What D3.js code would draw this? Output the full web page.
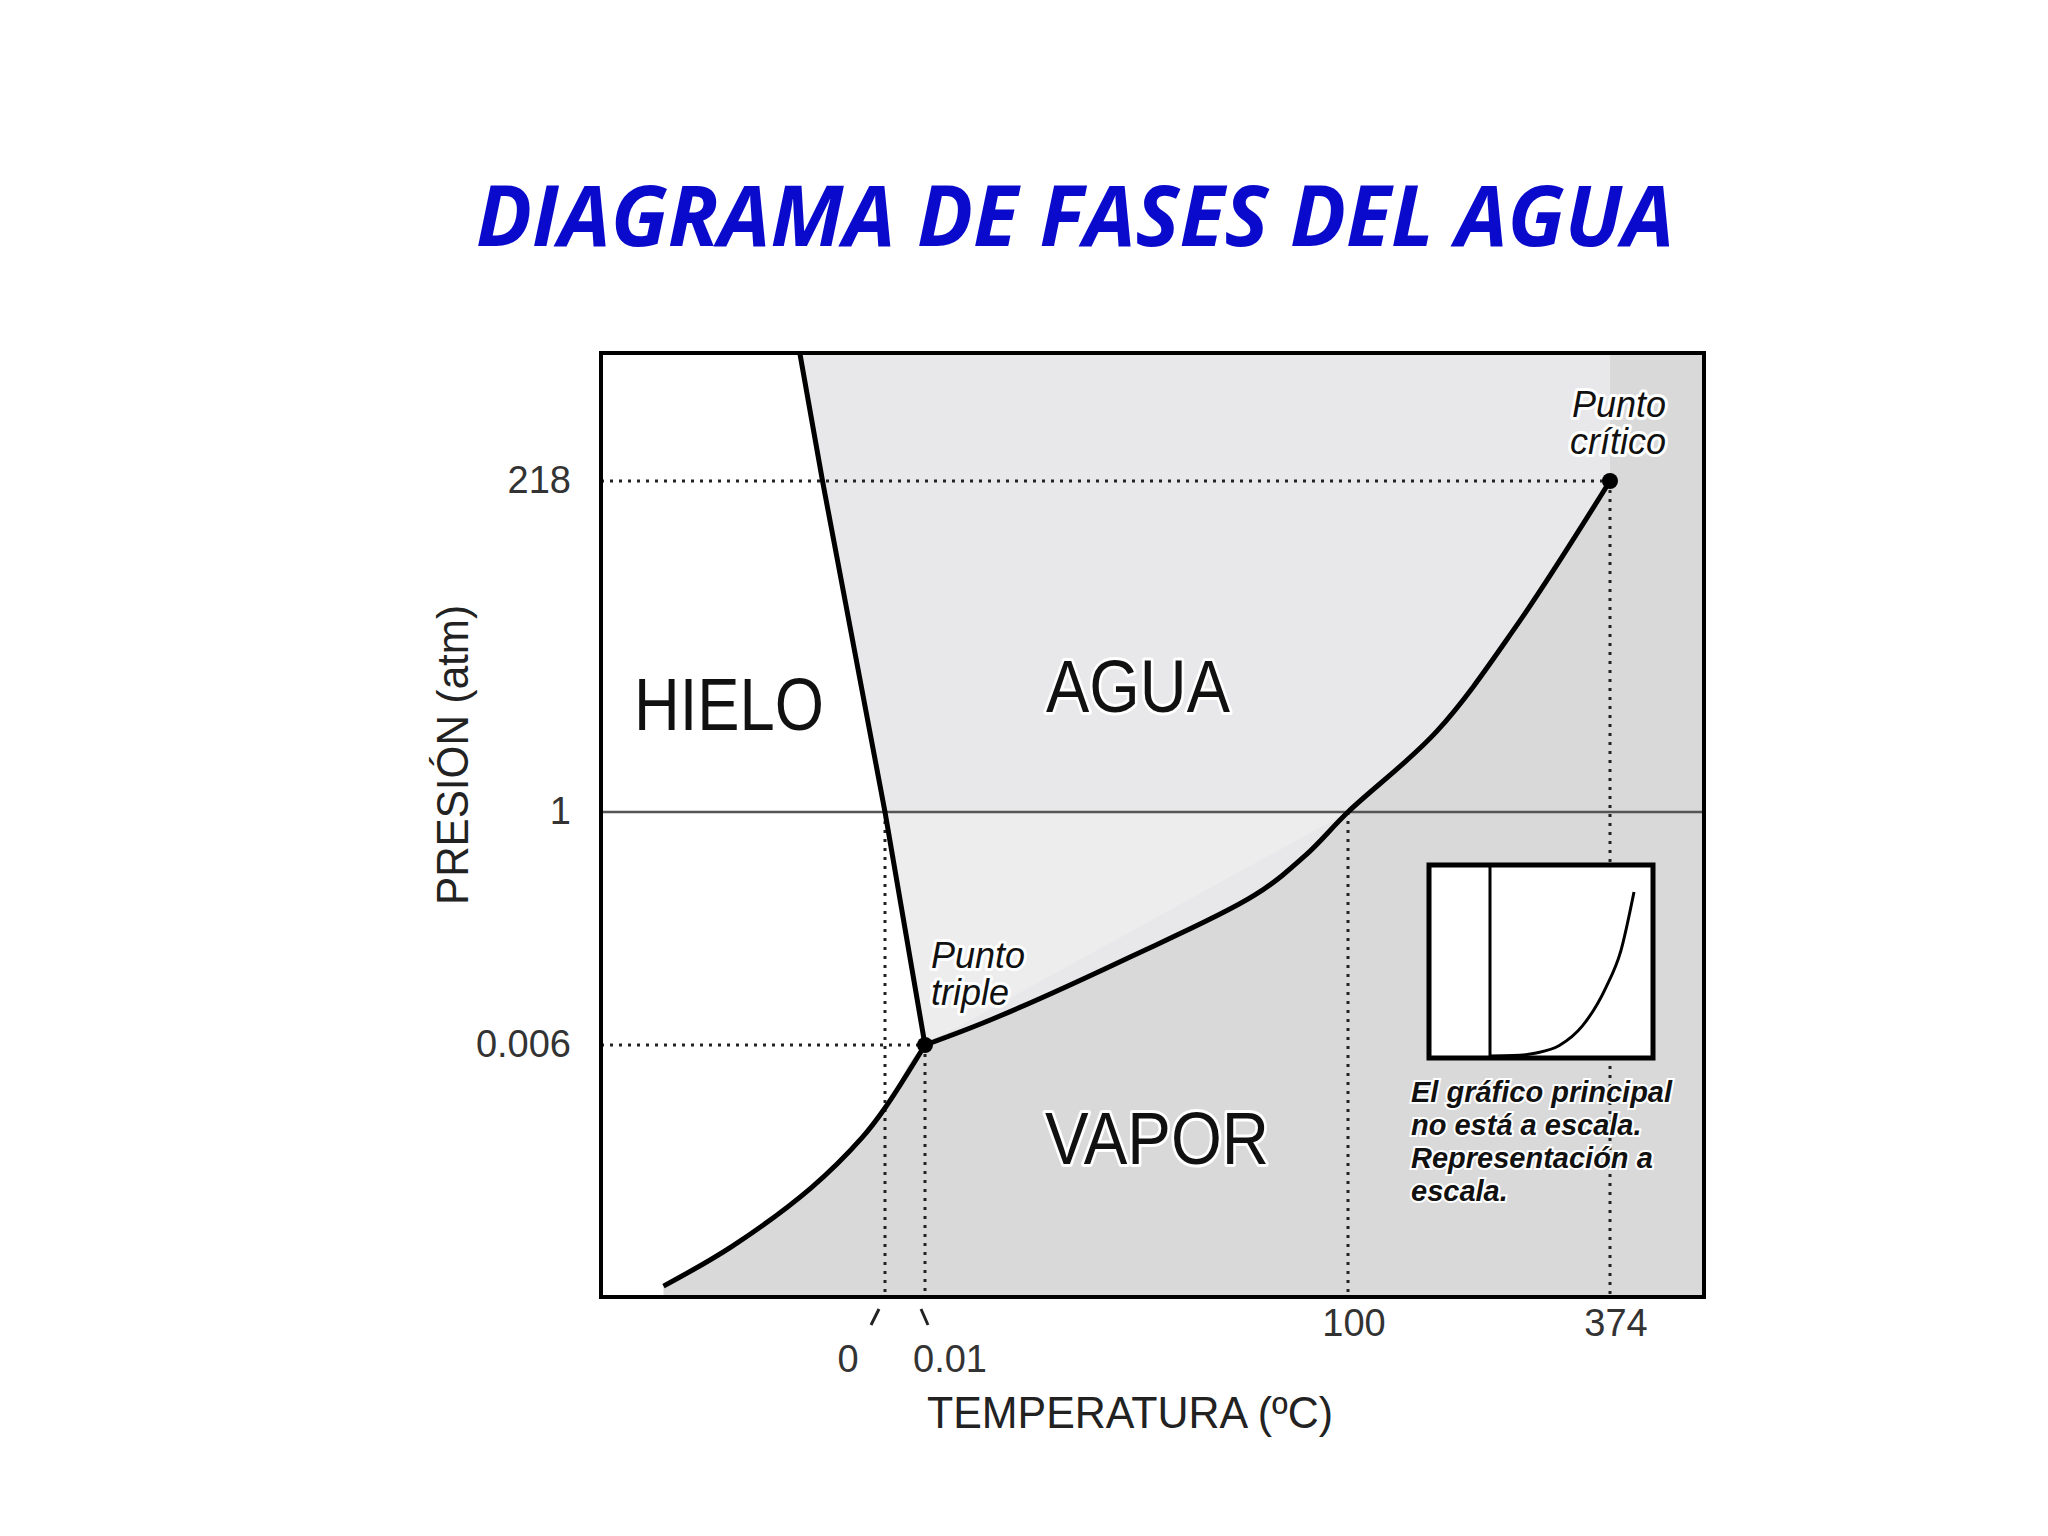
<!DOCTYPE html>
<html><head><meta charset="utf-8">
<script src="https://cdn.jsdelivr.net/npm/d3@7"></script>
<style>body{margin:0;background:#fff}</style>
</head><body>
<svg id="c" width="2048" height="1536"></svg>
<script>
// Data (chart is not to scale: axes are piecewise)
var tempTicks = [0, 0.01, 100, 374];
var tempTickLabels = ["0", "0.01", "100", "374"];
var presTicks = [0.006, 1, 218];
var presTickLabels = ["0.006", "1", "218"];
var sublimation = [[-39, 0.00026], [-27, 0.0012], [-13, 0.0026], [-4, 0.0038], [0, 0.0045], [0.01, 0.006]];
var fusion = [[0.01, 0.006], [0, 1], [-11, 218], [-15, 300]];
var vaporization = [[0.01, 0.006], [16, 0.117], [47, 0.369], [78, 0.646], [90, 0.816], [100, 1], [193, 54], [275, 122], [374, 218]];
var triplePoint = [0.01, 0.006];
var criticalPoint = [374, 218];
var insetCurve = [[0, 0], [60, 0.5], [120, 4], [180, 14], [240, 40], [300, 90], [340, 140], [374, 218]];

var svg = d3.select("#c");
var L = 601, R = 1704, T = 353, B = 1297;

var x = d3.scaleLinear().domain([-50, 0, 0.01, 100, 374, 420]).range([L, 885, 925, 1348, 1610, R]);
var y = d3.scaleLinear().domain([0, 0.006, 1, 218, 300]).range([B, 1045, 812, 481, T]);
var line = d3.line().x(d => x(d[0])).y(d => y(d[1]));
var smooth = d3.line().x(d => x(d[0])).y(d => y(d[1])).curve(d3.curveCatmullRom);

svg.append("text").attr("x", 1075).attr("y", 246).attr("text-anchor", "middle")
  .attr("font-family", "Open Sans").attr("font-weight", "bold").attr("font-style", "italic")
  .attr("font-size", 84).attr("fill", "#0a0acc").attr("textLength", 1198)
  .attr("lengthAdjust", "spacingAndGlyphs").text("DIAGRAMA DE FASES DEL AGUA");

// liquid region (right of fusion line)
svg.append("path").attr("d", line(fusion.concat([[420, 300], [420, 0.006]])) + "Z").attr("fill", "#e8e8ea");
svg.append("path").attr("d", line([[0, 1], [100, 1], [0.01, 0.006]]) + "Z").attr("fill", "#ededee");
// vapor region: smooth boundary then close along the frame
var boundary = sublimation.concat(vaporization.slice(1));
svg.append("path").attr("d", smooth(boundary) + line([[374, 300], [420, 300], [420, 0], [-39, 0]]).replace("M", "L") + "Z")
  .attr("fill", "#d9d9da");

// dotted guides
function guide(a, b) {
  svg.append("path").attr("d", line([a, b])).attr("fill", "none")
    .attr("stroke", "#222").attr("stroke-width", 3).attr("stroke-dasharray", "3,6");
}
guide([-50, 218], criticalPoint);
guide([-50, 0.006], triplePoint);
guide([0, 1], [0, 0]);
guide(triplePoint, [0.01, 0]);
guide([100, 1], [100, 0]);
guide(criticalPoint, [374, 0]);

// 1 atm line
svg.append("path").attr("d", line([[-50, 1], [420, 1]])).attr("stroke", "#555").attr("stroke-width", 2.5).attr("fill", "none");

// phase boundaries
svg.append("path").attr("d", smooth(sublimation)).attr("fill", "none").attr("stroke", "#000").attr("stroke-width", 5);
svg.append("path").attr("d", line(fusion)).attr("fill", "none").attr("stroke", "#000").attr("stroke-width", 5);
svg.append("path").attr("d", smooth(vaporization)).attr("fill", "none").attr("stroke", "#000").attr("stroke-width", 5);
svg.selectAll("circle.pt").data([triplePoint, criticalPoint]).enter().append("circle")
  .attr("cx", d => x(d[0])).attr("cy", d => y(d[1])).attr("r", 8).attr("fill", "#000");

// frame
svg.append("rect").attr("x", L).attr("y", T).attr("width", R - L).attr("height", B - T)
  .attr("fill", "none").attr("stroke", "#000").attr("stroke-width", 4);

var lab = "Liberation Sans Narrow, Liberation Sans, Arial";
// ticks
svg.selectAll("text.yt").data(presTicks).enter().append("text")
  .attr("x", 571).attr("y", d => y(d) + 12).attr("text-anchor", "end")
  .attr("font-family", lab).attr("font-size", 38).attr("fill", "#333")
  .text((d, i) => presTickLabels[i]);
var xtY = [1372, 1372, 1336, 1336];
var xtX = [848, 950, x(100) + 6, x(374) + 6];
svg.selectAll("text.xt").data(tempTicks).enter().append("text")
  .attr("x", (d, i) => xtX[i]).attr("y", (d, i) => xtY[i]).attr("text-anchor", "middle")
  .attr("font-family", lab).attr("font-size", 38).attr("fill", "#333")
  .text((d, i) => tempTickLabels[i]);
svg.append("line").attr("x1", x(0) - 6).attr("y1", B + 12).attr("x2", x(0) - 14).attr("y2", B + 28).attr("stroke", "#222").attr("stroke-width", 3);
svg.append("line").attr("x1", x(0.01) - 4).attr("y1", B + 12).attr("x2", x(0.01) + 3).attr("y2", B + 28).attr("stroke", "#222").attr("stroke-width", 3);

svg.append("text").attr("transform", "translate(468,755) rotate(-90)").attr("text-anchor", "middle")
  .attr("font-family", lab).attr("font-size", 44).attr("fill", "#222")
  .attr("textLength", 300).attr("lengthAdjust", "spacingAndGlyphs").text("PRESIÓN (atm)");
svg.append("text").attr("x", 1130).attr("y", 1428).attr("text-anchor", "middle")
  .attr("font-family", lab).attr("font-size", 44).attr("fill", "#222")
  .attr("textLength", 406).attr("lengthAdjust", "spacingAndGlyphs").text("TEMPERATURA (ºC)");

function halo(t) {
  return t.attr("stroke", "#fff").attr("stroke-width", 6).attr("paint-order", "stroke").attr("stroke-linejoin", "round");
}
[["HIELO", 729, 730, 190], ["AGUA", 1138, 712, 184], ["VAPOR", 1157, 1164, 224]].forEach(function (r) {
  halo(svg.append("text").attr("x", r[1]).attr("y", r[2]).attr("text-anchor", "middle")
    .attr("font-family", lab).attr("font-size", 74).attr("fill", "#111")
    .attr("textLength", r[3]).attr("lengthAdjust", "spacingAndGlyphs").text(r[0]));
});
function italic(lines, x0, y0, dy, anchor, size) {
  lines.forEach(function (s, i) {
    halo(svg.append("text").attr("x", x0).attr("y", y0 + i * dy).attr("text-anchor", anchor)
      .attr("font-family", lab).attr("font-style", "italic").attr("font-size", size).attr("fill", "#111").text(s));
  });
}
italic(["Punto", "triple"], 931, 968, 37, "start", 36);
italic(["Punto", "crítico"], 1666, 417, 37, "end", 36);

// inset (to scale)
var ix = d3.scaleLinear().domain([-140, 0, 374]).range([1432, 1490, 1634]);
var iy = d3.scaleLinear().domain([0, 218]).range([1056, 892]);
svg.append("rect").attr("x", 1429).attr("y", 865).attr("width", 224).attr("height", 193)
  .attr("fill", "#fff").attr("stroke", "#000").attr("stroke-width", 5);
svg.append("line").attr("x1", ix(0)).attr("x2", ix(0)).attr("y1", 865).attr("y2", 1058).attr("stroke", "#000").attr("stroke-width", 3);
svg.append("path").attr("d", d3.line().x(d => ix(d[0])).y(d => iy(d[1])).curve(d3.curveMonotoneX)(insetCurve))
  .attr("fill", "none").attr("stroke", "#000").attr("stroke-width", 3);
svg.selectAll("text.it").data(["El gráfico principal", "no está a escala.", "Representación a", "escala."])
  .enter().append("text").attr("x", 1411).attr("y", (d, i) => 1102 + i * 33)
  .attr("font-family", lab).attr("font-style", "italic").attr("font-weight", "bold")
  .attr("font-size", 29).attr("fill", "#111").attr("stroke", "#fff").attr("stroke-width", 4)
  .attr("paint-order", "stroke").text(d => d);
</script>
</body></html>
